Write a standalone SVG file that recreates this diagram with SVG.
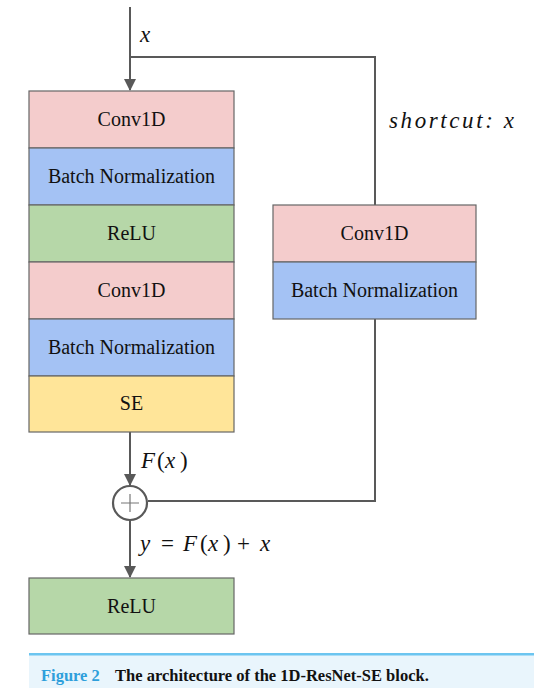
<svg xmlns="http://www.w3.org/2000/svg" width="534" height="688" viewBox="0 0 534 688">
<defs>
<marker id="arr" markerWidth="12" markerHeight="12" refX="11" refY="6" orient="auto" markerUnits="userSpaceOnUse">
<path d="M0,0 L12,6 L0,12 Z" fill="#595959"/>
</marker>
<style>
.box{stroke:#666;stroke-width:1.2}
.pink{fill:#F4CCCC}.blue{fill:#A4C2F4}.green{fill:#B6D7A8}.yellow{fill:#FFE599}
.lbl{font-family:"Liberation Serif","Times New Roman",serif;font-size:20px;fill:#111;text-anchor:middle}
.math{font-family:"Liberation Serif","DejaVu Serif",serif;font-style:italic;font-size:23px;fill:#111}
.up{font-style:normal}
.wire{fill:none;stroke:#595959;stroke-width:2}
.cap{font-family:"Liberation Serif","Times New Roman",serif;font-weight:bold;font-size:16.5px}
</style>
</defs>
<g id="connectors">
<path class="wire" d="M130,7 V90" marker-end="url(#arr)"/>
<path class="wire" d="M130,57 H375 V205"/>
<path class="wire" d="M375,319 V501 H148"/>
<path class="wire" d="M130,432 V485" marker-end="url(#arr)"/>
<path class="wire" d="M130,521 V577" marker-end="url(#arr)"/>
</g>
<g id="add">
<circle cx="130" cy="503" r="17" fill="#fff" stroke="#595959" stroke-width="2.2"/>
<path d="M121,503 H139 M130,494 V512" stroke="#777" stroke-width="1.2"/>
</g>
<g id="conv1"><rect class="box pink" x="29" y="91" width="205" height="57"/><text class="lbl" x="131.5" y="126">Conv1D</text></g>
<g id="bn1"><rect class="box blue" x="29" y="148" width="205" height="57"/><text class="lbl" x="131.5" y="183">Batch Normalization</text></g>
<g id="relu1"><rect class="box green" x="29" y="205" width="205" height="57"/><text class="lbl" x="131.5" y="240">ReLU</text></g>
<g id="conv2"><rect class="box pink" x="29" y="262" width="205" height="57"/><text class="lbl" x="131.5" y="297">Conv1D</text></g>
<g id="bn2"><rect class="box blue" x="29" y="319" width="205" height="57"/><text class="lbl" x="131.5" y="354">Batch Normalization</text></g>
<g id="se"><rect class="box yellow" x="29" y="376" width="205" height="56"/><text class="lbl" x="131.5" y="410">SE</text></g>
<g id="conv3"><rect class="box pink" x="273" y="205" width="203" height="57"/><text class="lbl" x="374.5" y="240">Conv1D</text></g>
<g id="bn3"><rect class="box blue" x="273" y="262" width="203" height="57"/><text class="lbl" x="374.5" y="297">Batch Normalization</text></g>
<g id="relu2"><rect class="box green" x="29" y="578" width="205" height="56"/><text class="lbl" x="131.5" y="613">ReLU</text></g>
<g id="labels">
<text class="math" x="140" y="42">x</text>
<text class="math" x="389" y="128" font-size="22" letter-spacing="2.6">shortcut: x</text>
<text class="math" y="468"><tspan x="141">F</tspan><tspan x="157" class="up">(</tspan><tspan x="165">x</tspan><tspan x="180" class="up">)</tspan></text>
<text class="math" y="551"><tspan x="140">y</tspan><tspan x="161" class="up">=</tspan><tspan x="183">F</tspan><tspan x="200" class="up">(</tspan><tspan x="208">x</tspan><tspan x="223" class="up">)</tspan><tspan x="237" class="up">+</tspan><tspan x="260">x</tspan></text>
</g>
<g id="caption">
<rect x="29" y="654" width="505" height="34" fill="#E9F5FC"/>
<rect x="29" y="653" width="505" height="2.5" fill="#6CC5F0"/>
<text class="cap" x="41" y="681" fill="#2E9FDB">Figure 2</text>
<text class="cap" x="115" y="681" fill="#111">The architecture of the 1D-ResNet-SE block.</text>
</g>
</svg>
